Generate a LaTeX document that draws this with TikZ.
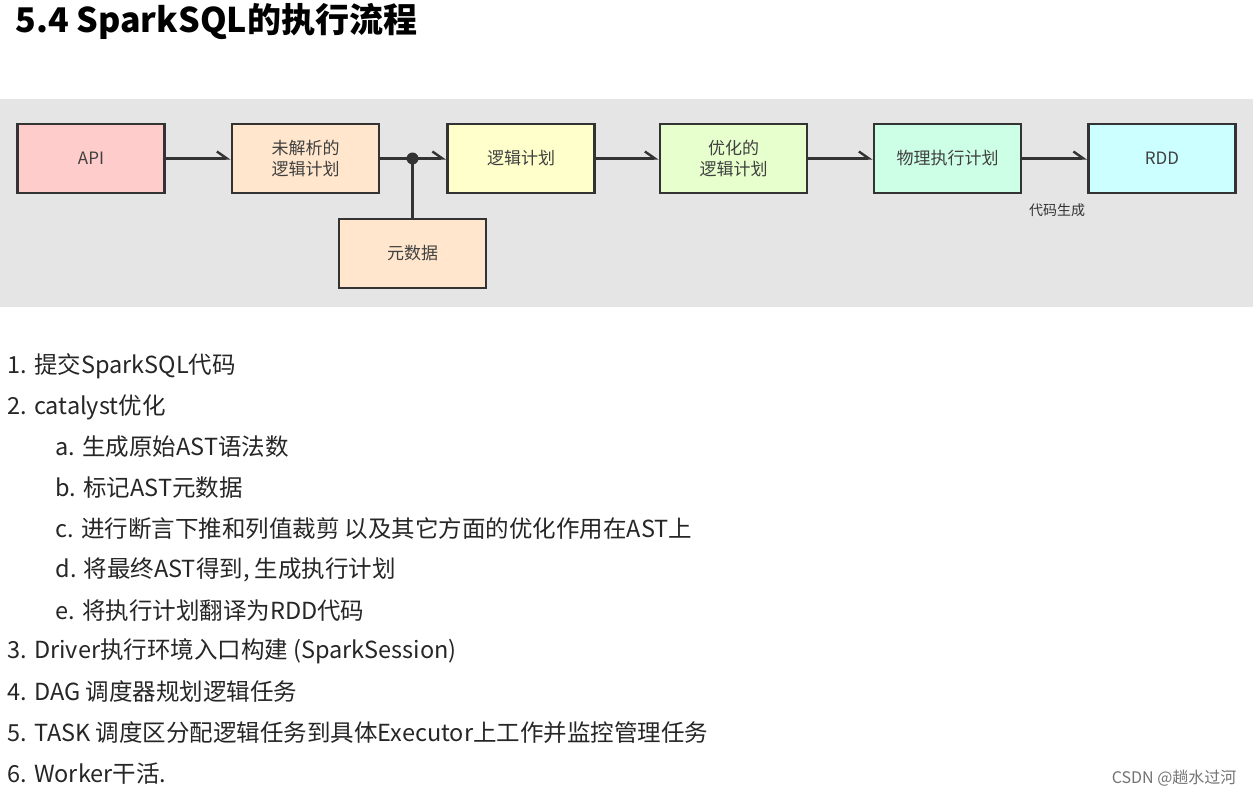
\documentclass[tikz,border=0pt]{standalone}
\usepackage{fontspec}
\setmainfont{Noto Sans CJK SC}
\usetikzlibrary{arrows.meta}
\definecolor{cpink}{HTML}{FFCCCC}
\definecolor{corange}{HTML}{FFE6CC}
\definecolor{cyel}{HTML}{FFFFCC}
\definecolor{cgreen}{HTML}{E6FFCC}
\definecolor{cmint}{HTML}{CCFFE6}
\definecolor{ccyan}{HTML}{CCFFFF}
\begin{document}
\begin{tikzpicture}[x=1pt,y=-1pt,
  box/.style={draw=black!80,line width=2.6pt,minimum width=147pt,minimum height=69pt,inner sep=0pt,align=center,font=\fontsize{17}{21}\selectfont,text=black!75},
  con/.style={draw=black!80,line width=2.6pt,-{Straight Barb[harpoon,length=10pt,width=14pt,line width=2.4pt]}},
  li/.style={anchor=west,font=\fontsize{23.5}{28}\selectfont,text=black!85}]
\useasboundingbox (0,0) rectangle (1253,797);
\fill[white] (0,0) rectangle (1253,797);
\fill[black!10] (0,99) rectangle (1253,307);
\node[anchor=west,font=\bfseries\fontsize{34}{38}\selectfont] (title) at (12,21) {5.4 SparkSQL的执行流程};
\node[box,fill=cpink] (api) at (91,158.5) {API};
\node[box,fill=corange] (u) at (305.5,158.5) {未解析的\\逻辑计划};
\node[box,fill=cyel] (l) at (521,158.5) {逻辑计划};
\node[box,fill=cgreen] (o) at (733.5,158.5) {优化的\\逻辑计划};
\node[box,fill=cmint] (p) at (947.5,158.5) {物理执行计划};
\node[box,fill=ccyan] (r) at (1162,158.5) {RDD};
\node[box,fill=corange] (m) at (412.5,253.5) {元数据};
\coordinate (dot) at (m.north |- u.east);
\draw[con] (api) -- (u);
\draw[con] (u) -- (l);
\draw[draw=black!80,line width=2.6pt] (m) -- (dot);
\fill[black!80] (dot) circle (6pt);
\draw[con] (l) -- (o);
\draw[con] (o) -- (p);
\draw[con] (p) -- (r);
\node[font=\fontsize{14}{16}\selectfont,text=black!80] (cg) at (1057,210) {代码生成};
\node[li] (i1) at (4,366) {1. 提交SparkSQL代码};
\node[li] (i2) at (4,407) {2. catalyst优化};
\node[li] (ia) at (52,447) {a. 生成原始AST语法数};
\node[li] (ib) at (52,488) {b. 标记AST元数据};
\node[li] (ic) at (52,529) {c. 进行断言下推和列值裁剪 以及其它方面的优化作用在AST上};
\node[li] (id) at (52,570) {d. 将最终AST得到, 生成执行计划};
\node[li] (ie) at (52,611) {e. 将执行计划翻译为RDD代码};
\node[li] (i3) at (4,651) {3. Driver执行环境入口构建 (SparkSession)};
\node[li] (i4) at (4,692) {4. DAG 调度器规划逻辑任务};
\node[li] (i5) at (4,733) {5. TASK 调度区分配逻辑任务到具体Executor上工作并监控管理任务};
\node[li] (i6) at (4,774) {6. Worker干活.};
\node[anchor=east,font=\fontsize{16}{19}\selectfont,text=black!55] (wm) at (1240,778) {CSDN @趟水过河};
\end{tikzpicture}
\end{document}
